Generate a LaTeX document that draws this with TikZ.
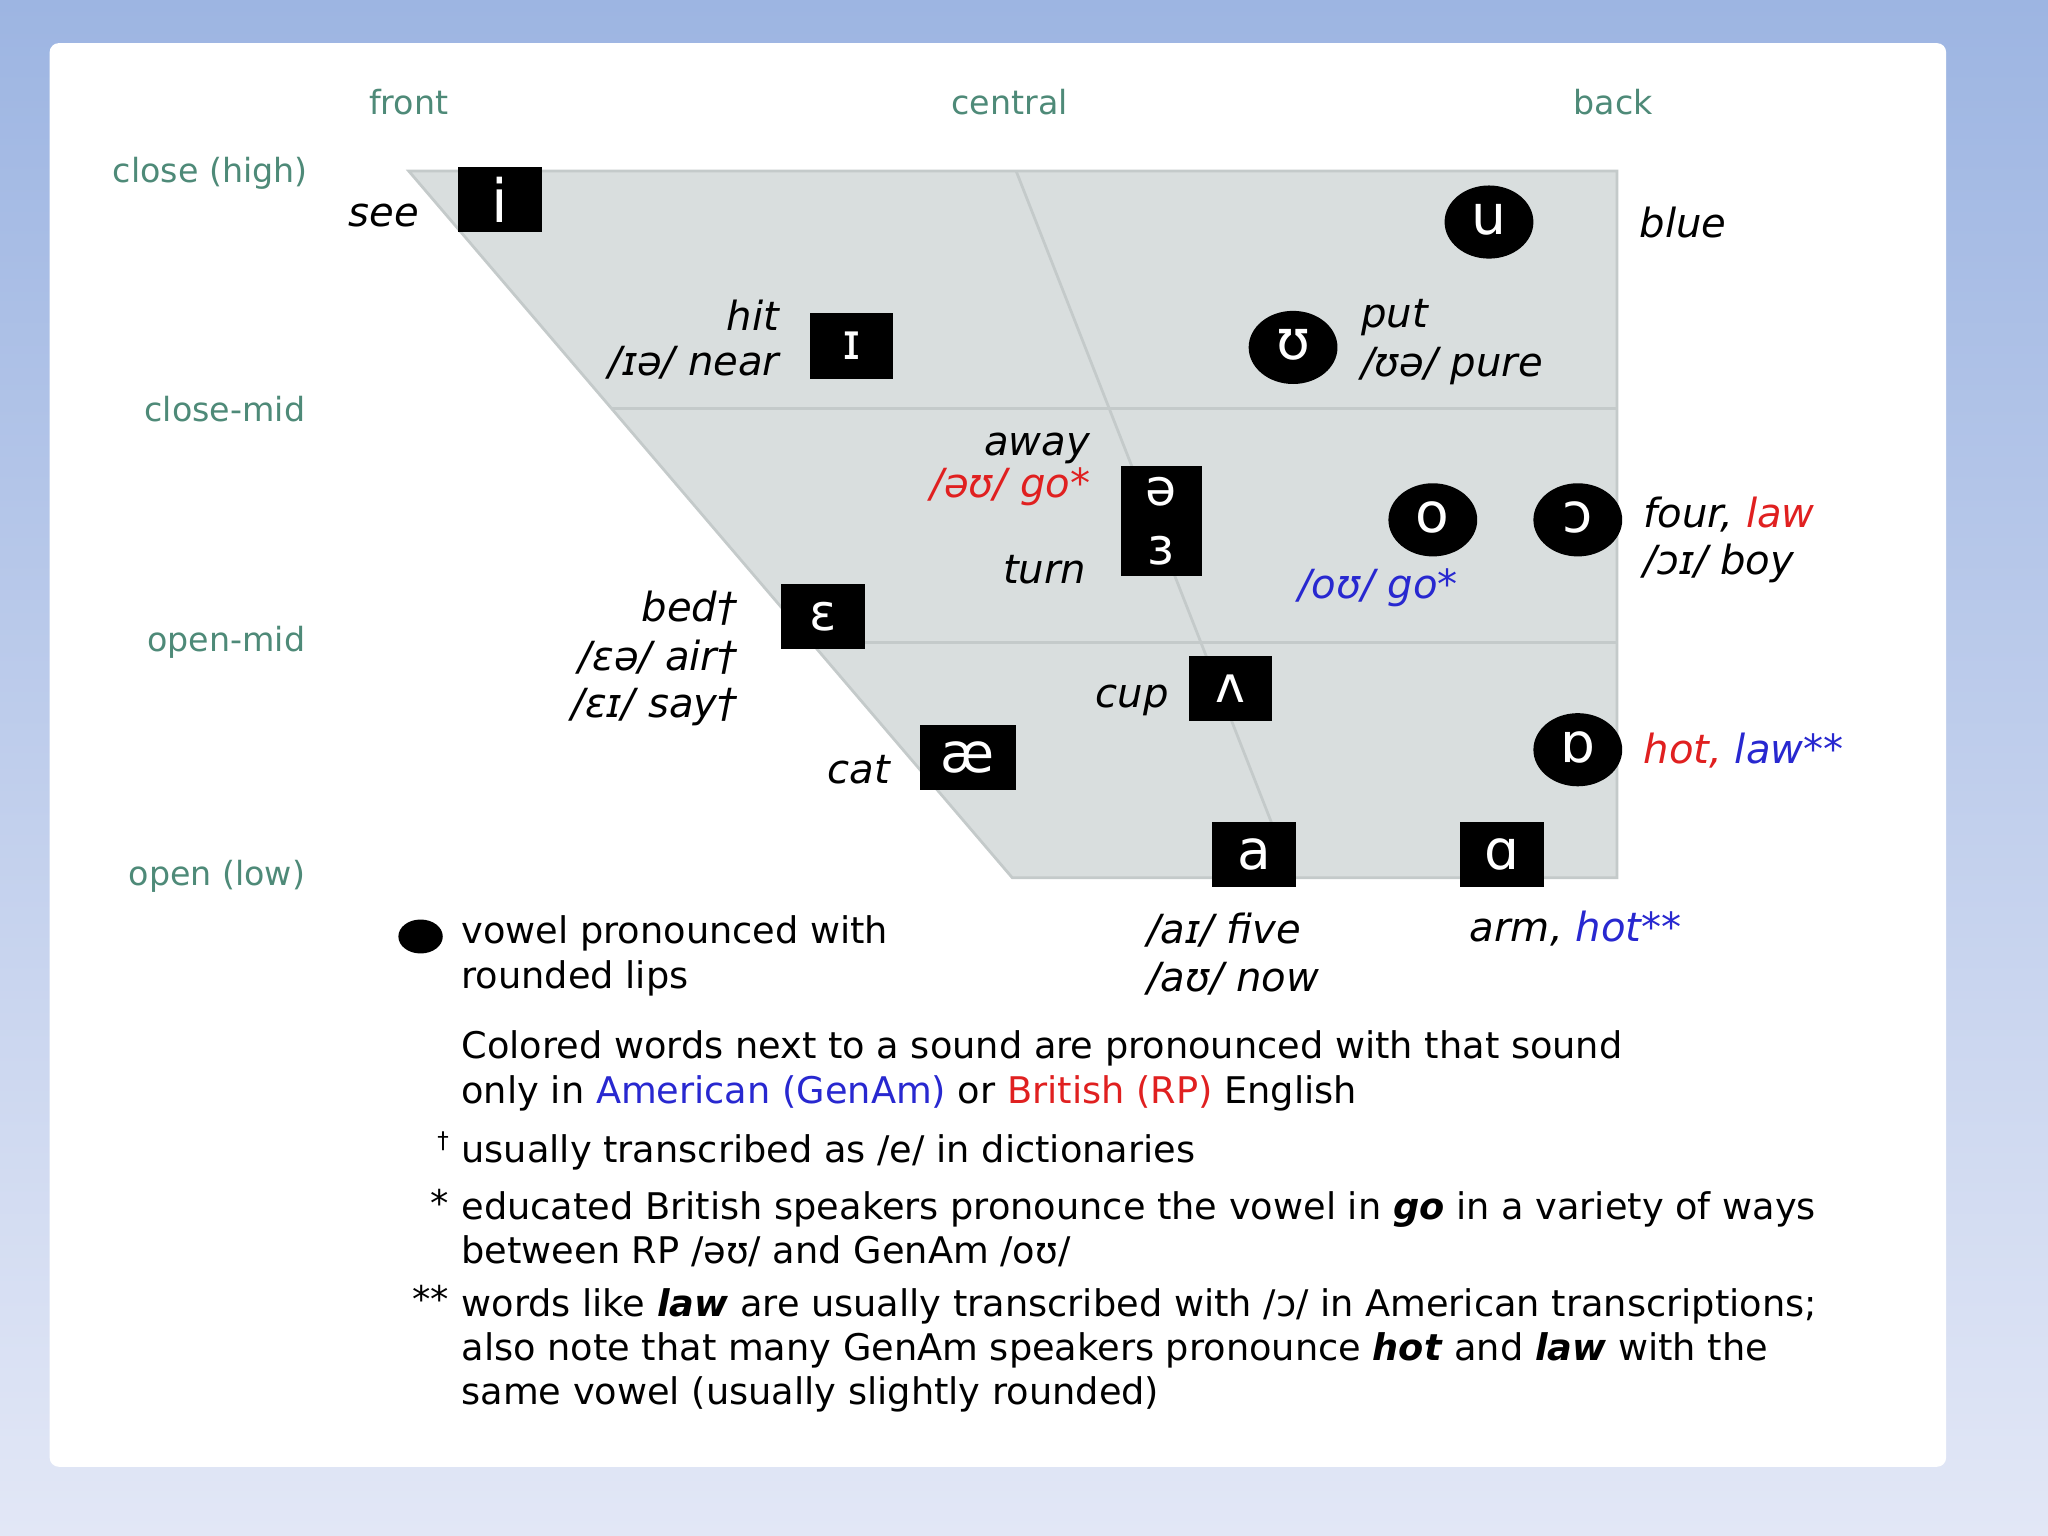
\documentclass[tikz,border=0pt]{standalone}
\usepackage{fontspec}
\setmainfont{DejaVu Sans}
\newfontfamily\ipafont{DejaVu Sans}
\definecolor{axis}{HTML}{4E8A78}
\definecolor{grayfill}{HTML}{D9DEDE}
\definecolor{gridc}{HTML}{C4CACA}
\definecolor{myred}{HTML}{E02020}
\definecolor{myblue}{HTML}{2828D0}
\begin{document}
\begin{tikzpicture}[x=0.02cm,y=-0.02cm,
  axl/.style={text=axis,font=\fontsize{14.5}{16}\selectfont,inner sep=0},
  wd/.style={font=\fontsize{17.5}{18}\selectfont\itshape,inner sep=0},
  leg/.style={font=\fontsize{16}{19.3}\selectfont,inner sep=0,anchor=north west,align=left}]
\useasboundingbox (0,0) rectangle (1568,1176);
\shade[top color={rgb,255:red,157;green,181;blue,226},bottom color={rgb,255:red,226;green,231;blue,246}] (0,0) rectangle (1568,1176);
\fill[white,rounded corners=4] (38,33) rectangle (1490,1123);
% chart
\fill[grayfill] (313,131) -- (1238,131) -- (1238,672) -- (775,672) -- cycle;
\draw[gridc,line width=1.2pt] (313,131) -- (1238,131) -- (1238,672) -- (775,672) -- cycle;
\draw[gridc,line width=1.2pt] (468,313) -- (1238,313);
\draw[gridc,line width=1.2pt] (620,492) -- (1238,492);
\draw[gridc,line width=1.2pt] (778,131) -- (990,672);
% axis labels
\node[axl] (fr) at (313,78) {front};
\node[axl] (ce) at (773,78) {central};
\node[axl] (bk) at (1235,78) {back};
\node[axl,anchor=east] (l1) at (236,133) {close (high)};
\node[axl,anchor=east] (l2) at (234,313) {close-mid};
\node[axl,anchor=east] (l3) at (234,492) {open-mid};
\node[axl,anchor=east] (l4) at (234,671) {open (low)};
% symbols
\node[fill=black,text=white,minimum width=64*0.02cm,minimum height=50*0.02cm,font=\fontsize{26}{26}\selectfont\ipafont,inner sep=0] (si) at (383,153) {i};
\node[fill=black,text=white,minimum width=64*0.02cm,minimum height=50*0.02cm,font=\fontsize{22}{22}\selectfont\ipafont,inner sep=0] (sI) at (652,265) {ɪ};
\node[fill=black,text=white,minimum width=62*0.02cm,minimum height=84*0.02cm,font=\fontsize{22}{26}\selectfont\ipafont,inner sep=0,align=center] (sschwa) at (889,399) {ə\\ɜ};
\node[fill=black,text=white,minimum width=64*0.02cm,minimum height=50*0.02cm,font=\fontsize{22}{22}\selectfont\ipafont,inner sep=0] (se) at (630,472) {ɛ};
\node[fill=black,text=white,minimum width=64*0.02cm,minimum height=50*0.02cm,font=\fontsize{22}{22}\selectfont\ipafont,inner sep=0] (sv) at (942,527) {ʌ};
\node[fill=black,text=white,minimum width=74*0.02cm,minimum height=50*0.02cm,font=\fontsize{24}{24}\selectfont\ipafont,inner sep=0] (sae) at (741,580) {æ};
\node[fill=black,text=white,minimum width=64*0.02cm,minimum height=50*0.02cm,font=\fontsize{24}{24}\selectfont\ipafont,inner sep=0] (sa) at (960,654) {a};
\node[fill=black,text=white,minimum width=64*0.02cm,minimum height=50*0.02cm,font=\fontsize{24}{24}\selectfont\ipafont,inner sep=0] (salpha) at (1150,654) {ɑ};
\fill[black] (1140,170) ellipse (34 and 28); \node[text=white,font=\fontsize{24}{24}\selectfont\ipafont] (su) at (1140,168) {u};
\fill[black] (990,266) ellipse (34 and 28); \node[text=white,font=\fontsize{24}{24}\selectfont\ipafont] (sU) at (990,264) {ʊ};
\fill[black] (1097,398) ellipse (34 and 28); \node[text=white,font=\fontsize{24}{24}\selectfont\ipafont] (so) at (1097,396) {o};
\fill[black] (1208,398) ellipse (34 and 28); \node[text=white,font=\fontsize{24}{24}\selectfont\ipafont] (sc) at (1208,396) {ɔ};
\fill[black] (1208,574) ellipse (34 and 28); \node[text=white,font=\fontsize{24}{24}\selectfont\ipafont] (sO) at (1208,572) {ɒ};
% words
\node[wd,anchor=east] (w1) at (321,165) {see};
\node[wd,anchor=east] (w2) at (597,241) {hit};
\node[wd,anchor=east] (w3) at (597,278) {/ɪə/ near};
\node[wd,anchor=west] (w4) at (1042,243) {put};
\node[wd,anchor=west] (w5) at (1042,280) {/ʊə/ pure};
\node[wd,anchor=west] (w6) at (1255,170) {blue};
\node[wd,anchor=east] (w7) at (835,343) {away};
\node[wd,anchor=east,text=myred] (w8) at (835,373) {/əʊ/ go*};
\node[wd,anchor=east] (w9) at (832,436) {turn};
\node[wd,anchor=west] (w10) at (1258,394) {four, \textcolor{myred}{law}};
\node[wd,anchor=west] (w11) at (1258,431) {/ɔɪ/ boy};
\node[wd,text=myblue] (w12) at (1055,450) {/oʊ/ go*};
\node[wd,anchor=east] (w13) at (565,466) {bed†};
\node[wd,anchor=east] (w14) at (565,503) {/ɛə/ air†};
\node[wd,anchor=east] (w15) at (565,541) {/ɛɪ/ say†};
\node[wd,anchor=east] (w16) at (895,536) {cup};
\node[wd,anchor=east] (w17) at (682,589) {cat};
\node[wd,anchor=west] (w18) at (1258,575) {\textcolor{myred}{hot,} \textcolor{myblue}{law**}};
\node[wd,anchor=west] (w19) at (878,712) {/aɪ/ five};
\node[wd,anchor=west] (w20) at (878,749) {/aʊ/ now};
\node[wd,anchor=west] (w21) at (1125,711) {arm, \textcolor{myblue}{hot**}};
% legend
\fill[black] (322,717) ellipse (17 and 13);
\node[leg] (g1) at (353,701) {vowel pronounced with\\rounded lips};
\node[leg] (g2) at (353,789) {Colored words next to a sound are pronounced with that sound\\only in \textcolor{myblue}{American (GenAm)} or \textcolor{myred}{British (RP)} English};
\node[leg] (g3) at (353,868) {usually transcribed as /e/ in dictionaries};
\node[leg,anchor=north east] (d3) at (344,866) {\fontsize{10}{10}\selectfont †};
\node[leg] (g4) at (353,912) {educated British speakers pronounce the vowel in \textbf{\itshape go} in a variety of ways\\between RP /əʊ/ and GenAm /oʊ/};
\node[leg,anchor=north east] (d4) at (344,910) {*};
\node[leg] (g5) at (353,986) {words like \textbf{\itshape law} are usually transcribed with /ɔ/ in American transcriptions;\\also note that many GenAm speakers pronounce \textbf{\itshape hot} and \textbf{\itshape law} with the\\same vowel (usually slightly rounded)};
\node[leg,anchor=north east] (d5) at (344,984) {**};
\end{tikzpicture}
\end{document}
